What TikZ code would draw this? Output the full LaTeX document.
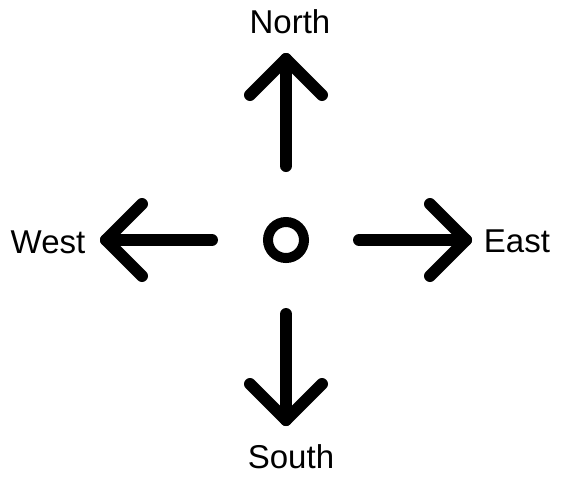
\documentclass[tikz,border=0pt]{standalone}
\usepackage{fontspec}
\setmainfont{Liberation Sans}

\begin{document}
\begin{tikzpicture}[x=1pt,y=-1pt]
    \tikzstyle{stroke}=[line width=12pt, line cap=round, line join=round]
    \tikzstyle{compass}=[font=\fontsize{33}{39}\selectfont, inner sep=0pt, anchor=base]
    \useasboundingbox (0,0) rectangle (574,483);
    \node[circle, draw, line width=10pt, minimum size=36pt, inner sep=0pt] (centre) at (286,240) {};
    % north
    \coordinate (n0) at (286,166);
    \coordinate (n1) at (286,59);
    \coordinate (nl) at (250,95);
    \coordinate (nr) at (322,95);
    \draw[stroke] (n0) -- (n1);
    \draw[stroke] (nl) -- (n1) -- (nr);
    \node[compass] (north) at (290,33) {North};
    % south
    \coordinate (s0) at (286,314);
    \coordinate (s1) at (286,420);
    \coordinate (sl) at (250,384);
    \coordinate (sr) at (322,384);
    \draw[stroke] (s0) -- (s1);
    \draw[stroke] (sl) -- (s1) -- (sr);
    \node[compass] (south) at (291,468) {South};
    % west
    \coordinate (w0) at (212,240);
    \coordinate (w1) at (106,240);
    \coordinate (wl) at (142,204);
    \coordinate (wr) at (142,276);
    \draw[stroke] (w0) -- (w1);
    \draw[stroke] (wl) -- (w1) -- (wr);
    \node[compass] (west) at (48,253) {West};
    % east
    \coordinate (e0) at (359,240);
    \coordinate (e1) at (466,240);
    \coordinate (el) at (430,204);
    \coordinate (er) at (430,276);
    \draw[stroke] (e0) -- (e1);
    \draw[stroke] (el) -- (e1) -- (er);
    \node[compass] (east) at (517,252) {East};
\end{tikzpicture}
\end{document}
